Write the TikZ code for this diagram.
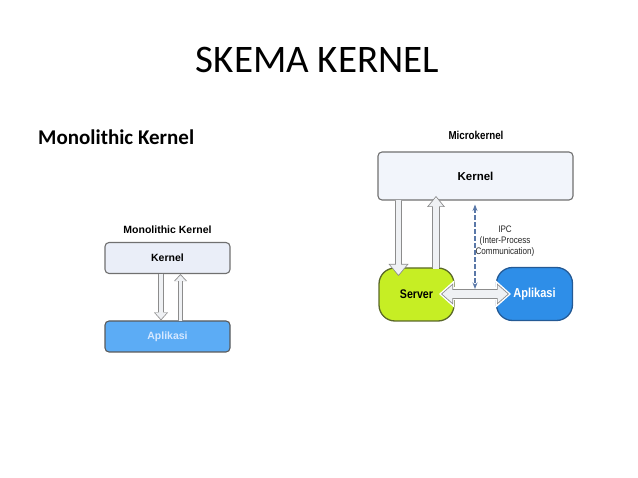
\documentclass[tikz,border=0pt]{standalone}
\usepackage{fontspec}
\setmainfont{Carlito}
\newfontfamily\arial{Liberation Sans}
\newfontfamily\arialnarrow[FakeStretch=0.85]{Liberation Sans}
\usetikzlibrary{arrows.meta,calc}
\definecolor{kernfill}{HTML}{EAEEF8}
\definecolor{boxedge}{HTML}{707070}
\definecolor{aplfill}{HTML}{5CACF5}
\definecolor{apltext}{HTML}{D6E8FF}
\definecolor{servfill}{HTML}{C6EE24}
\definecolor{servedge}{HTML}{5A6828}
\definecolor{aplrfill}{HTML}{2E8EE8}
\definecolor{aplredge}{HTML}{245A95}
\definecolor{fatfill}{HTML}{EFF1F4}
\definecolor{fatedge}{HTML}{8C8C8C}
\definecolor{ipcline}{HTML}{5A78A8}
\begin{document}
\begin{tikzpicture}[x=1pt,y=-1pt,
  kbox/.style={draw=boxedge, line width=1.1pt, rounded corners=4pt, fill=kernfill, font=\arial\bfseries},
  fatout/.style={draw=fatedge, line width=#1},
  fatin/.style={draw=fatfill, line width=#1, shorten >=1.3pt, shorten <=-0.5pt},
  tag/.style={font=\arial\bfseries\fontsize{10.5}{12}\selectfont}]
  \useasboundingbox (0,0) rectangle (638,478);
  \node[anchor=base, font=\fontsize{39}{44}\selectfont] (title) at (317.5,73) {SKEMA KERNEL};
  \node[anchor=base west, inner sep=0pt, font=\bfseries\fontsize{21}{25}\selectfont] (mono) at (38,145) {Monolithic Kernel};

  \node[tag] (monotag) at (167.5,229.5) {Monolithic Kernel};
  \node[kbox, minimum width=125pt, minimum height=31pt, font=\arial\bfseries\fontsize{10.5}{12}\selectfont] (kernL) at (167.5,258) {Kernel};
  \node[kbox, draw=boxedge!80!black, fill=aplfill, text=apltext, minimum width=125pt, minimum height=31pt, font=\arial\bfseries\fontsize{10.5}{12}\selectfont] (aplL) at (167.5,336.5) {Aplikasi};

  \draw[fatout=6.5pt, -{Triangle[length=8pt,width=14pt,line width=0pt]}] ($(kernL.south)+(-6.5,0)$) -- ($(aplL.north)+(-6.5,0)$);
  \draw[fatin=4.5pt, -{Triangle[length=6.4pt,width=11.6pt,line width=0pt]}] ($(kernL.south)+(-6.5,0)$) -- ($(aplL.north)+(-6.5,0)$);
  \draw[fatout=5.5pt, -{Triangle[length=7pt,width=13pt,line width=0pt]}] ($(aplL.north)+(13,0)$) -- ($(kernL.south)+(13,0)$);
  \draw[fatin=3.7pt, -{Triangle[length=5.6pt,width=10.5pt,line width=0pt]}] ($(aplL.north)+(13,0)$) -- ($(kernL.south)+(13,0)$);

  \node[tag, font=\arialnarrow\bfseries\fontsize{11.5}{13}\selectfont] (microtag) at (476,135) {Microkernel};
  \node[kbox, fill=kernfill!60!white, minimum width=195pt, minimum height=48pt, font=\arial\bfseries\fontsize{11.5}{13}\selectfont] (kernR) at (475.5,176) {Kernel};
  \node[draw=servedge, line width=1.3pt, fill=servfill, rounded corners=16pt, minimum width=75pt, minimum height=53pt, font=\arialnarrow\bfseries\fontsize{12.5}{14}\selectfont] (serv) at (416.5,294.5) {Server};
  \node[draw=aplredge, line width=1.3pt, fill=aplrfill, text=white, rounded corners=16pt, minimum width=76pt, minimum height=53pt, font=\arialnarrow\bfseries\fontsize{13}{15}\selectfont] (aplR) at (534.5,294) {Aplikasi};

  \coordinate (dnR) at (398.5,276);
  \coordinate (upR) at (436,196);
  \draw[fatout=7pt, -{Triangle[length=12pt,width=20pt,line width=0pt]}] (kernR.south -| dnR) -- (dnR);
  \draw[fatin=5pt, -{Triangle[length=10pt,width=16.8pt,line width=0pt]}] (kernR.south -| dnR) -- (dnR);
  \draw[fatout=8pt, -{Triangle[length=11pt,width=18pt,line width=0pt]}] ($(serv.north -| upR)+(0,1)$) -- (upR);
  \draw[fatin=6pt, -{Triangle[length=9.2pt,width=15pt,line width=0pt]}] ($(serv.north -| upR)+(0,1)$) -- (upR);

  \coordinate (lnk) at (441,294);
  \coordinate (rnk) at (509,294);
  \draw[draw=white, line width=13pt, shorten <=-2pt, shorten >=-2pt, {Triangle[length=15pt,width=27pt,line width=0pt]}-{Triangle[length=15pt,width=27pt,line width=0pt]}] (lnk) -- (rnk);
  \draw[fatout=10pt, {Triangle[length=12pt,width=21pt,line width=0pt]}-{Triangle[length=12pt,width=21pt,line width=0pt]}] (lnk) -- (rnk);
  \draw[draw=fatfill, line width=8pt, shorten <=1.3pt, shorten >=1.3pt, {Triangle[length=10pt,width=17.5pt,line width=0pt]}-{Triangle[length=10pt,width=17.5pt,line width=0pt]}] (lnk) -- (rnk);

  \coordinate (ipcbot) at (475,289);
  \draw[ipcline, line width=1.1pt, dash pattern=on 4.5pt off 2.5pt, {Stealth[length=6.5pt,width=5pt]}-{Stealth[length=6.5pt,width=5pt]}] ($(kernR.south)+(-0.5,4)$) -- (ipcbot);
  \node[align=center, text=black!85, font=\arialnarrow\fontsize{9.5}{11}\selectfont] (ipc) at (505,241) {IPC\\(Inter-Process\\Communication)};
\end{tikzpicture}
\end{document}
